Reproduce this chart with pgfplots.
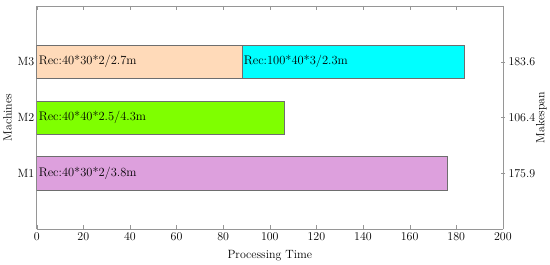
\documentclass[border=0pt]{standalone}
\usepackage{pgfplots}
\pgfplotsset{compat=1.18}
\definecolor{cpeach}{RGB}{255,218,185}
\definecolor{ccyan}{RGB}{0,255,255}
\definecolor{cgreen}{RGB}{127,255,0}
\definecolor{cplum}{RGB}{221,160,221}
\definecolor{cedge}{RGB}{110,110,110}
\definecolor{caxis}{RGB}{150,150,150}
\pgfplotsset{myfont/.style={
  tick label style={font=\fontsize{12}{14}\selectfont},
  label style={font=\fontsize{12}{14}\selectfont}}}
\begin{document}
\begin{tikzpicture}
\begin{axis}[
  myfont,
  scale only axis, width=468pt, height=224pt,
  xmin=0, xmax=200, ymin=0, ymax=4,
  xbar, bar width=0.6, bar shift=0pt,
  xtick={0,20,...,200},
  ytick={1,2,3}, yticklabels={M1,M2,M3},
  ytick style={draw=none},
  axis y line*=left, axis x line*=box,
  axis line style={caxis},
  tick style={caxis},
  xtick pos=both, tick align=inside,
  yticklabel style={xshift=1pt},
  xlabel={Processing Time}, ylabel={Machines},
  xlabel style={yshift=-3pt}, ylabel style={yshift=-1pt},
]
\addplot[fill=cplum, draw=cedge] coordinates {(175.9,1)};
\addplot[fill=cgreen, draw=cedge] coordinates {(106.4,2)};
\addplot[fill=ccyan, draw=cedge] coordinates {(183.6,3)};
\addplot[fill=cpeach, draw=cedge] coordinates {(88,3)};
\begin{scope}[every node/.style={anchor=west, inner sep=1pt, font=\fontsize{12.5}{14}\selectfont}]
\node at (axis cs:0.4,3) {Rec:40*30*2/2.7m};
\node at (axis cs:88.4,3) {Rec:100*40*3/2.3m};
\node at (axis cs:0.4,2) {Rec:40*40*2.5/4.3m};
\node at (axis cs:0.4,1) {Rec:40*30*2/3.8m};
\end{scope}
\end{axis}
\begin{axis}[
  myfont,
  scale only axis, width=468pt, height=224pt,
  xmin=0, xmax=200, ymin=0, ymax=4,
  axis x line=none, axis y line*=right,
  axis line style={caxis}, tick style={caxis},
  ytick={1,2,3}, yticklabels={175.9,106.4,183.6},
  tick align=center,
  ylabel={Makespan}, ylabel style={yshift=6pt},
]
\addplot[draw=none] coordinates {(0,1)};
\end{axis}
\path (current axis.north) ++(0,6pt);
\end{tikzpicture}
\end{document}
